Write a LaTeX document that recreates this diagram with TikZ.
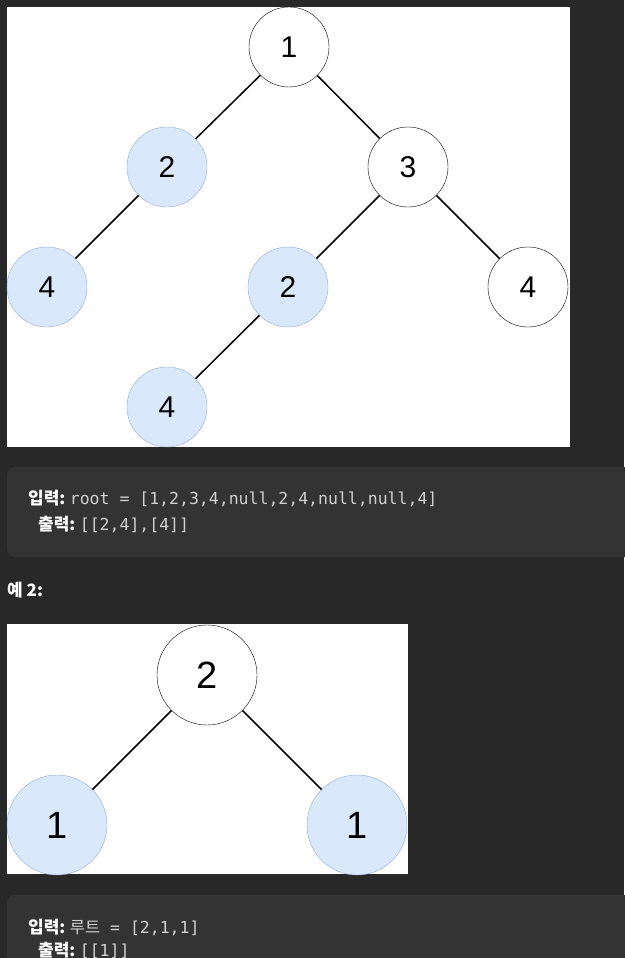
\documentclass[tikz,border=0pt]{standalone}
\usepackage{fontspec}
\setmainfont{Liberation Sans}
\newfontfamily\kr{Noto Sans CJK KR}
\setmonofont{DejaVu Sans Mono}
\definecolor{bg}{HTML}{282828}
\definecolor{codebg}{HTML}{333333}
\definecolor{bfill}{HTML}{DAE8FC}
\definecolor{bline}{HTML}{8FAAD8}
\definecolor{codefg}{HTML}{D0D0D0}
\begin{document}
\begin{tikzpicture}[x=1pt,y=-1pt,
  wn/.style={circle,draw=black,fill=white,minimum size=80pt,inner sep=0pt,font=\fontsize{30}{30}\selectfont},
  bn/.style={wn,draw=bline,fill=bfill},
  wnb/.style={wn,minimum size=100pt,font=\fontsize{38}{38}\selectfont},
  bnb/.style={wnb,draw=bline,fill=bfill},
  ed/.style={line width=1.5pt},
  lab/.style={anchor=base west,inner xsep=0pt,text=white,font=\kr\bfseries\fontsize{17}{17}\selectfont},
  code/.style={anchor=base west,inner xsep=4pt,text=codefg,font=\ttfamily\fontsize{16.5}{16.5}\selectfont}]
\fill[bg] (0,0) rectangle (624,958);
\useasboundingbox (0,0) rectangle (624,958);
\fill[white] (7,7) rectangle (570,447);
\node[wn] (a) at (289,47) {1};
\node[bn] (b) at (167,167) {2};
\node[wn] (c) at (408,167) {3};
\node[bn] (d) at (47,287) {4};
\node[bn] (e) at (288,287) {2};
\node[wn] (f) at (528,287) {4};
\node[bn] (g) at (167,407) {4};
\draw[ed] (a)--(b); \draw[ed] (a)--(c); \draw[ed] (b)--(d);
\draw[ed] (c)--(e); \draw[ed] (c)--(f); \draw[ed] (e)--(g);
\fill[codebg,rounded corners=8pt] (7,467) rectangle (640,557);
\node[lab] (l1) at (28,504) {입력:};
\node[code] (c1) at (l1.base east) {root = [1,2,3,4,null,2,4,null,null,4]};
\node[lab] (l2) at (38,530) {출력:};
\node[code] (c2) at (l2.base east) {[[2,4],[4]]};
\node[lab] (ex) at (7,596) {예 2:};
\fill[white] (7,624) rectangle (408,874);
\node[wnb] (p) at (207,675) {2};
\node[bnb] (q) at (57,825) {1};
\node[bnb] (r) at (357,825) {1};
\draw[ed] (p)--(q); \draw[ed] (p)--(r);
\fill[codebg,rounded corners=8pt] (7,895) rectangle (640,980);
\node[lab] (l3) at (28,933) {입력:};
\node[code] (c3) at (l3.base east) {{\kr 루트} = [2,1,1]};
\node[lab] (l4) at (38,956) {출력:};
\node[code] (c4) at (l4.base east) {[[1]]};
\end{tikzpicture}
\end{document}
